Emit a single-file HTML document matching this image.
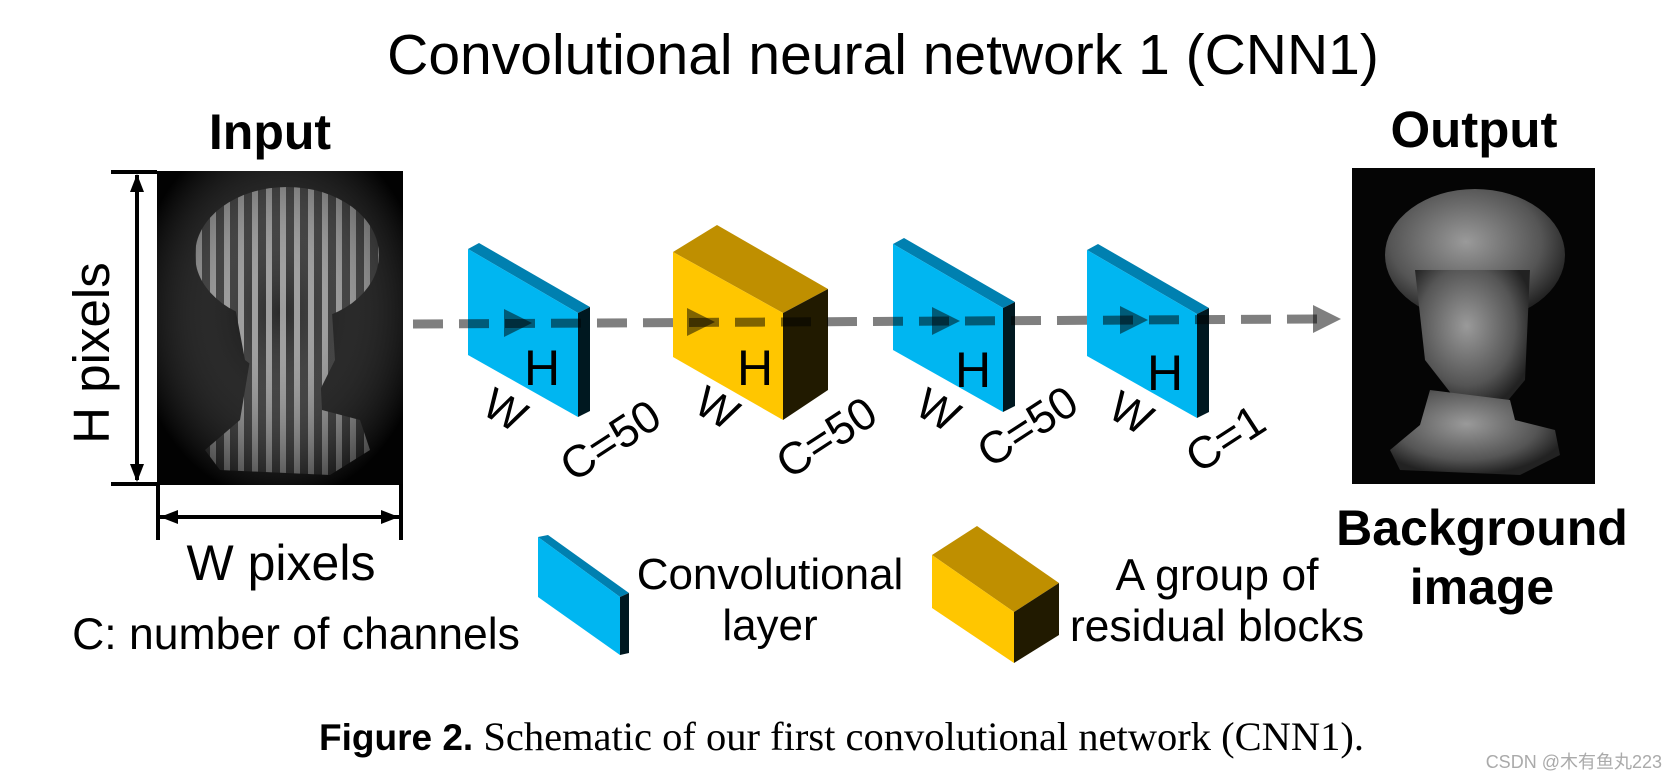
<!DOCTYPE html>
<html><head><meta charset="utf-8"><style>
html,body{margin:0;padding:0;background:#fff;}
svg{display:block;}
text{font-family:"Liberation Sans",Arial,sans-serif;}
</style></head><body>
<svg width="1678" height="780" viewBox="0 0 1678 780" xmlns="http://www.w3.org/2000/svg">
<defs>
<pattern id="stripes" width="14" height="20" patternUnits="userSpaceOnUse">
<rect width="14" height="20" fill="#2a2a2a"/>
<rect width="6" height="20" fill="#9a9a9a"/>
</pattern>
<radialGradient id="shade" cx="50%" cy="45%" r="60%">
<stop offset="0" stop-color="#fff" stop-opacity="0"/>
<stop offset="1" stop-color="#000" stop-opacity="0.6"/>
</radialGradient>
<radialGradient id="stone" cx="45%" cy="40%" r="60%">
<stop offset="0" stop-color="#9a9a9a"/>
<stop offset="0.7" stop-color="#555"/>
<stop offset="1" stop-color="#222"/>
</radialGradient>
</defs>

<text x="883" y="74" font-size="57" text-anchor="middle">Convolutional neural network 1 (CNN1)</text>
<text x="270" y="149" font-size="50" font-weight="bold" text-anchor="middle">Input</text>
<text x="1474" y="147" font-size="51" font-weight="bold" text-anchor="middle">Output</text>

<rect x="157" y="171" width="246" height="314" fill="#050505"/>
<g>
<ellipse cx="287" cy="255" rx="92" ry="68" fill="url(#stripes)"/>
<path d="M230 280 L330 280 L335 360 L320 390 L290 395 L245 360 Z" fill="url(#stripes)"/>
<path d="M250 360 L320 370 L322 410 L360 420 L370 450 L330 475 L220 470 L205 450 L240 420 Z" fill="url(#stripes)"/>
<rect x="157" y="171" width="246" height="314" fill="url(#shade)"/>
</g>

<line x1="137" y1="175" x2="137" y2="480" stroke="#000" stroke-width="4"/>
<line x1="111" y1="172" x2="157" y2="172" stroke="#000" stroke-width="4"/>
<line x1="111" y1="484" x2="157" y2="484" stroke="#000" stroke-width="4"/>
<polygon points="137,174 130,192 144,192" fill="#000"/>
<polygon points="137,482 130,464 144,464" fill="#000"/>
<text x="0" y="0" font-size="51" text-anchor="middle" transform="translate(109,353) rotate(-90)">H pixels</text>

<line x1="159" y1="517" x2="399" y2="517" stroke="#000" stroke-width="4"/>
<line x1="158" y1="484" x2="158" y2="540" stroke="#000" stroke-width="4"/>
<line x1="401" y1="484" x2="401" y2="540" stroke="#000" stroke-width="4"/>
<polygon points="160,517 178,510 178,524" fill="#000"/>
<polygon points="399,517 381,510 381,524" fill="#000"/>
<text x="281" y="580" font-size="50" text-anchor="middle">W pixels</text>
<text x="296" y="649" font-size="44.5" text-anchor="middle">C: number of channels</text>

<g id="bp1">
<polygon points="468,249 479,243 590,307 578,313" fill="#0080b0"/>
<polygon points="578,313 590,307 590,411 578,417" fill="#001820"/>
<polygon points="468,249 578,313 578,417 468,355" fill="#00b6f1"/>
</g>
<use href="#bp1" transform="translate(425,-5)"/>
<use href="#bp1" transform="translate(619,1)"/>

<polygon points="673,252 717,225 828,289 783,313" fill="#bf8f00"/>
<polygon points="783,313 828,289 828,390 783,420" fill="#211a00"/>
<polygon points="673,252 783,313 783,420 673,357" fill="#ffc600"/>

<rect x="1352" y="168" width="243" height="316" fill="#050505"/>
<ellipse cx="1475" cy="255" rx="90" ry="66" fill="url(#stone)"/>
<path d="M1415 270 L1530 270 L1525 380 L1500 410 L1460 405 L1425 360 Z" fill="url(#stone)"/>
<path d="M1430 390 L1510 400 L1515 420 L1555 430 L1560 455 L1520 475 L1400 470 L1390 450 L1420 425 Z" fill="url(#stone)"/>
<text x="1482" y="545" font-size="50" font-weight="bold" text-anchor="middle">Background</text>
<text x="1482" y="604" font-size="50" font-weight="bold" text-anchor="middle">image</text>

<g fill="rgba(0,0,0,0.5)">
<line x1="413" y1="324" x2="1318" y2="319" stroke="rgba(0,0,0,0.5)" stroke-width="9" stroke-dasharray="30,16"/>
<polygon points="532,323 504,309 504,337"/>
<polygon points="715,322 687,308 687,336"/>
<polygon points="960,321 932,307 932,335"/>
<polygon points="1148,320 1120,306 1120,334"/>
<polygon points="1341,319 1313,305 1313,333"/>
</g>

<g font-size="50" text-anchor="middle">
<text x="542" y="385">H</text>
<text x="755" y="385">H</text>
<text x="973" y="387">H</text>
<text x="1165" y="390">H</text>
</g>
<g font-size="44" text-anchor="middle">
<text transform="translate(505,410) rotate(30)" y="15">W</text>
<text transform="translate(717,408) rotate(30)" y="15">W</text>
<text transform="translate(938,410) rotate(30)" y="15">W</text>
<text transform="translate(1131,413) rotate(30)" y="15">W</text>
</g>
<g font-size="45" text-anchor="middle">
<text transform="translate(610,440) rotate(-33)" y="16">C=50</text>
<text transform="translate(826,437) rotate(-33)" y="16">C=50</text>
<text transform="translate(1027,426) rotate(-33)" y="16">C=50</text>
<text transform="translate(1225,438) rotate(-33)" y="16">C=1</text>
</g>

<polygon points="538,537 548,535 629,593 620,597" fill="#0080b0"/>
<polygon points="620,597 629,593 629,653 620,655" fill="#001820"/>
<polygon points="538,537 620,597 620,655 538,597" fill="#00b6f1"/>
<text x="770" y="589" font-size="44" text-anchor="middle">Convolutional</text>
<text x="770" y="640" font-size="44" text-anchor="middle">layer</text>

<polygon points="932,555 977,526 1059,583 1014,612" fill="#bf8f00"/>
<polygon points="1014,612 1059,583 1059,635 1014,663" fill="#211a00"/>
<polygon points="932,555 1014,612 1014,663 932,608" fill="#ffc600"/>
<text x="1217" y="590" font-size="44.5" text-anchor="middle">A group of</text>
<text x="1217" y="641" font-size="44.5" text-anchor="middle">residual blocks</text>

<text x="319" y="750" font-size="37"><tspan font-weight="bold">Figure 2.</tspan><tspan font-family="Liberation Serif, serif" font-size="40.5"> Schematic of our first convolutional network (CNN1).</tspan></text>
<text x="1662" y="768" font-size="18" fill="#aaa" text-anchor="end" style="font-family:'Liberation Sans','Noto Sans CJK SC',sans-serif">CSDN @木有鱼丸223</text>
</svg>
</body></html>
